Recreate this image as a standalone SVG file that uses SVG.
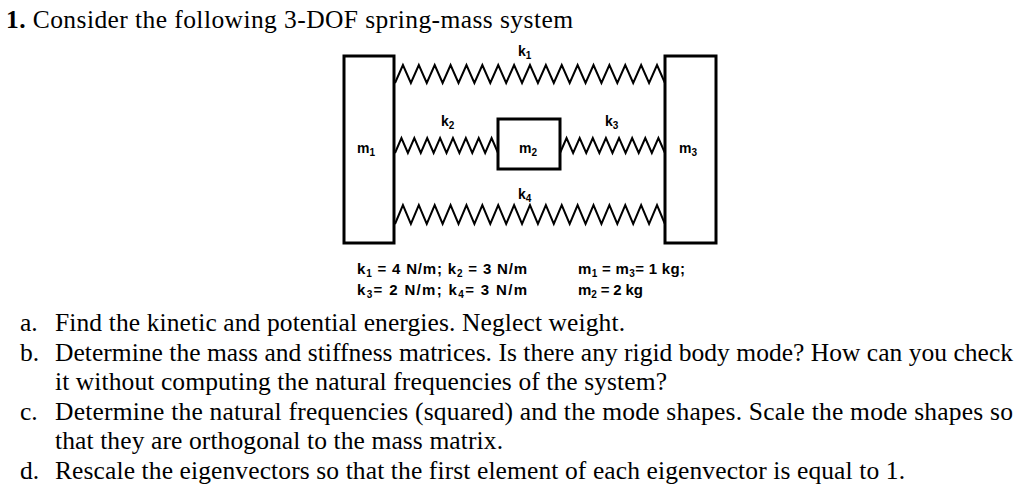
<svg xmlns="http://www.w3.org/2000/svg" width="1024" height="497" viewBox="0 0 1024 497">
<style>
.t{font-family:"Liberation Serif","Times New Roman",serif;font-size:25.5px;fill:#000}
.l{font-family:"Liberation Sans",Arial,sans-serif;font-size:14px;font-weight:bold;fill:#000}
.p{font-family:"Liberation Sans",Arial,sans-serif;font-size:15px;font-weight:bold;fill:#000}
.s{font-size:10px}
.box{fill:#fff;stroke:#000;stroke-width:3}
.sp{fill:none;stroke:#000;stroke-width:2;stroke-linejoin:miter}
</style>
<rect width="1024" height="497" fill="#fff"/>
<text class="t" x="6" y="28" textLength="567" lengthAdjust="spacing"><tspan font-weight="bold">1.</tspan> Consider the following 3-DOF spring-mass system</text>
<g id="connectors">
<path class="sp" d="M395 83 l7.94 -18 l7.94 18 l7.94 -18 l7.94 18 l7.94 -18 l7.94 18 l7.94 -18 l7.94 18 l7.94 -18 l7.94 18 l7.94 -18 l7.94 18 l7.94 -18 l7.94 18 l7.94 -18 l7.94 18 l7.94 -18 l7.94 18 l7.94 -18 l7.94 18 l7.94 -18 l7.94 18 l7.94 -18 l7.94 18 l7.94 -18 l7.94 18 l7.94 -18 l7.94 18 l7.94 -18 l7.94 18 l7.94 -18 l7.94 18 l7.94 -18 l7.94 18"/>
<path class="sp" d="M395 153 l6.44 -15 l6.44 15 l6.44 -15 l6.44 15 l6.44 -15 l6.44 15 l6.44 -15 l6.44 15 l6.44 -15 l6.44 15 l6.44 -15 l6.44 15 l6.44 -15 l6.44 15 l6.44 -15 l6.44 15"/>
<path class="sp" d="M560 153 l6.56 -15 l6.56 15 l6.56 -15 l6.56 15 l6.56 -15 l6.56 15 l6.56 -15 l6.56 15 l6.56 -15 l6.56 15 l6.56 -15 l6.56 15 l6.56 -15 l6.56 15 l6.56 -15 l6.56 15"/>
<path class="sp" d="M395 224 l7.94 -19 l7.94 19 l7.94 -19 l7.94 19 l7.94 -19 l7.94 19 l7.94 -19 l7.94 19 l7.94 -19 l7.94 19 l7.94 -19 l7.94 19 l7.94 -19 l7.94 19 l7.94 -19 l7.94 19 l7.94 -19 l7.94 19 l7.94 -19 l7.94 19 l7.94 -19 l7.94 19 l7.94 -19 l7.94 19 l7.94 -19 l7.94 19 l7.94 -19 l7.94 19 l7.94 -19 l7.94 19 l7.94 -19 l7.94 19 l7.94 -19 l7.94 19"/>
<text class="l" x="518" y="56">k<tspan class="s" dy="3">1</tspan></text>
<text class="l" x="441" y="126">k<tspan class="s" dy="3">2</tspan></text>
<text class="l" x="605" y="126">k<tspan class="s" dy="3">3</tspan></text>
<text class="l" x="518" y="199">k<tspan class="s" dy="3">4</tspan></text>
</g>
<g id="m1"><rect class="box" x="344" y="56" width="50" height="187"/><text class="l" x="357" y="153">m<tspan class="s" dy="3">1</tspan></text></g>
<g id="m2"><rect class="box" x="498" y="119" width="62" height="50"/><text class="l" x="519" y="153">m<tspan class="s" dy="3">2</tspan></text></g>
<g id="m3"><rect class="box" x="665" y="56" width="51" height="187"/><text class="l" x="679" y="153">m<tspan class="s" dy="3">3</tspan></text></g>
<text class="p" x="357" y="274" textLength="170">k<tspan class="s" dy="3">1</tspan><tspan dy="-3"> = 4 N/m;  k</tspan><tspan class="s" dy="3">2</tspan><tspan dy="-3"> = 3 N/m</tspan></text>
<text class="p" x="357" y="295" textLength="170">k<tspan class="s" dy="3">3</tspan><tspan dy="-3">= 2 N/m;   k</tspan><tspan class="s" dy="3">4</tspan><tspan dy="-3">= 3 N/m</tspan></text>
<text class="p" x="578" y="274" textLength="107">m<tspan class="s" dy="3">1</tspan><tspan dy="-3"> = m</tspan><tspan class="s" dy="3">3</tspan><tspan dy="-3">= 1 kg;</tspan></text>
<text class="p" x="578" y="295" textLength="65">m<tspan class="s" dy="3">2</tspan><tspan dy="-3"> = 2 kg</tspan></text>
<text class="t" x="20" y="331">a.</text><text class="t" x="55" y="331" textLength="570" lengthAdjust="spacing">Find the kinetic and potential energies. Neglect weight.</text>
<text class="t" x="20" y="361">b.</text><text class="t" x="55" y="361" textLength="958" lengthAdjust="spacing">Determine the mass and stiffness matrices. Is there any rigid body mode? How can you check</text>
<text class="t" x="55" y="390" textLength="612" lengthAdjust="spacing">it without computing the natural frequencies of the system?</text>
<text class="t" x="20" y="420">c.</text><text class="t" x="55" y="420" textLength="958" lengthAdjust="spacing">Determine the natural frequencies (squared) and the mode shapes. Scale the mode shapes so</text>
<text class="t" x="55" y="449" textLength="448" lengthAdjust="spacing">that they are orthogonal to the mass matrix.</text>
<text class="t" x="20" y="479">d.</text><text class="t" x="55" y="479" textLength="850" lengthAdjust="spacing">Rescale the eigenvectors so that the first element of each eigenvector is equal to 1.</text>
</svg>
